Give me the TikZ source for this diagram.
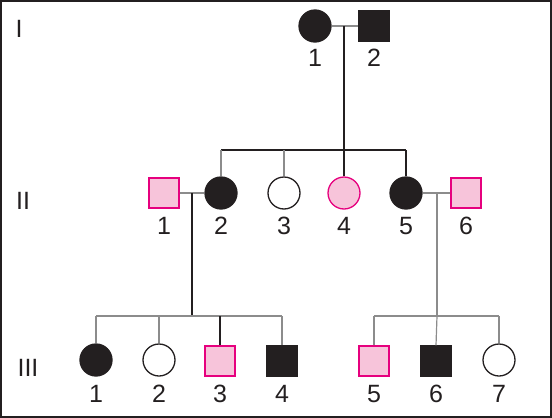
\documentclass[tikz,border=0pt]{standalone}
\usepackage{fontspec}
\setmainfont{Liberation Sans}
\definecolor{ink}{HTML}{231F20}
\definecolor{lgray}{HTML}{8C8C8C}
\definecolor{pinkfill}{HTML}{F7C4DA}
\definecolor{pinkline}{HTML}{E6007E}
\begin{document}
\begin{tikzpicture}[x=1pt,y=-1pt,
  fem/.style={circle,minimum size=32pt,inner sep=0pt,line width=1.3pt},
  mal/.style={rectangle,minimum size=30pt,inner sep=0pt,line width=1.3pt},
  aff/.style={fill=ink,draw=ink},
  unaff/.style={fill=white,draw=ink},
  car/.style={fill=pinkfill,draw=pinkline},
  num/.style={font=\fontsize{25}{25}\selectfont,text=ink,inner sep=0pt},
  gen/.style={font=\fontsize{25}{25}\selectfont,text=ink,inner sep=0pt},
  blk/.style={draw=ink,line width=1.2pt},
  gry/.style={draw=lgray,line width=1.2pt}]
\useasboundingbox (0,0) rectangle (552,418);
\draw[draw=ink,line width=2pt] (1,1) rectangle (551,417);
% generation labels
\node[gen] (gI) at (19,29) {I};
\node[gen] (gII) at (23,201) {II};
\node[gen] (gIII) at (28,368) {III};
% generation I
\node[fem,aff] (i1) at (315,26) {};
\node[mal,aff] (i2) at (374,26) {};
\node[num] (li1) at (315,58) {1};
\node[num] (li2) at (374,58) {2};
% generation II
\node[mal,car] (ii1) at (164,193) {};
\node[fem,aff] (ii2) at (221,193) {};
\node[fem,unaff] (ii3) at (284,193) {};
\node[fem,car] (ii4) at (344,193) {};
\node[fem,aff] (ii5) at (406,193) {};
\node[mal,car] (ii6) at (466,193) {};
\foreach \n/\x in {1/164,2/221,3/284,4/344,5/406,6/466}
  \node[num] (lii\n) at (\x,226) {\n};
% generation III
\node[fem,aff] (iii1) at (96,360) {};
\node[fem,unaff] (iii2) at (159,360) {};
\node[mal,car] (iii3) at (220,361) {};
\node[mal,aff] (iii4) at (282,361) {};
\node[mal,car] (iii5) at (374,361) {};
\node[mal,aff] (iii6) at (436,361) {};
\node[fem,unaff] (iii7) at (499,360) {};
\foreach \n/\x in {1/96,2/159,3/220,4/282,5/374,6/436,7/499}
  \node[num] (liii\n) at (\x,394) {\n};
% connectors
\coordinate (m1) at (344,26);
\coordinate (s1) at (344,150);
\coordinate (m2) at (192,193);
\coordinate (s2) at (192,316);
\coordinate (m3) at (437,193);
\coordinate (s3) at (437,316);
\draw[gry] (i1) -- (i2);
\draw[blk] (m1) -- (s1);
\draw[blk] (ii2 |- s1) -- (ii5 |- s1);
\draw[gry] (ii2.north) -- (ii2 |- s1);
\draw[gry] (ii3.north) -- (ii3 |- s1);
\draw[blk] (ii4.north) -- (s1);
\draw[blk] (ii5.north) -- (ii5 |- s1);
\draw[gry] (ii1) -- (ii2);
\draw[blk] (m2) -- (s2);
\draw[gry] (iii1 |- s2) -- (iii4 |- s2);
\draw[gry] (iii1.north) -- (iii1 |- s2);
\draw[gry] (iii2.north) -- (iii2 |- s2);
\draw[blk] (iii3.north) -- (iii3 |- s2);
\draw[gry] (iii4.north) -- (iii4 |- s2);
\draw[gry] (ii5) -- (ii6);
\draw[gry] (m3) -- (s3);
\draw[gry] (iii5 |- s3) -- (iii7 |- s3);
\draw[gry] (iii5.north) -- (iii5 |- s3);
\draw[gry] (iii6.north) -- (s3);
\draw[gry] (iii7.north) -- (iii7 |- s3);
\end{tikzpicture}
\end{document}
